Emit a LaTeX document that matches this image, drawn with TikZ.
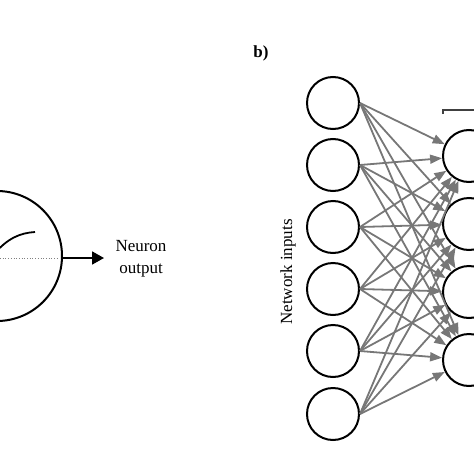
\documentclass[tikz,border=0pt]{standalone}
\usepackage{fontspec}
\setmainfont{Liberation Serif}
\usetikzlibrary{arrows.meta}
\definecolor{edgegray}{HTML}{777777}
\tikzset{
  neuron/.style={circle,draw=black,line width=2pt,minimum size=52pt,inner sep=0pt},
  link/.style={draw=edgegray,line width=1.8pt,-{Triangle[length=12pt,width=9pt]}},
  lbl/.style={font=\fontsize{17}{22}\selectfont,inner sep=0pt,align=center}
}
\begin{document}
\begin{tikzpicture}[x=1pt,y=-1pt]
\useasboundingbox (0,0) rectangle (474,474);
\clip (0,0) rectangle (474,474);
% part a (partly visible)
\node[circle,draw=black,line width=2pt,minimum size=130pt,inner sep=0pt] (big) at (-3,256) {};
\coordinate (dl) at (0,258);
\coordinate (dr) at (57,258);
\draw[gray,line width=0.7pt,dotted] (dl) -- (dr);
\coordinate (s0) at (-6,254);
\coordinate (s1) at (35,232);
\draw[black,line width=1.8pt] (s0) .. controls (8,238) and (20,233) .. (s1);
\coordinate (bigE) at (62,258);
\node[lbl] (out) at (141,259) {Neuron\\output};
\coordinate (tip) at (104,258);
\draw[black,line width=1.8pt,-{Triangle[length=12pt,width=13pt]}] (bigE) -- (tip);
% part b
\node[lbl,font=\fontsize{17}{22}\selectfont\bfseries] (b) at (261,53) {b)};
\node[lbl,rotate=90] (ni) at (288,272) {Network inputs};
\foreach \i/\y in {1/103,2/165,3/227,4/289,5/351,6/414}
  \node[neuron] (in\i) at (333,\y) {};
\foreach \j/\y in {1/156,2/224,3/292,4/360}
  \node[neuron] (h\j) at (469,\y) {};
\foreach \i in {1,...,6}
  \foreach \j in {1,...,4}
    \draw[link] (in\i.east) -- (h\j);
\coordinate (br0) at (443,114);
\coordinate (br1) at (443,110);
\coordinate (br2) at (474,110);
\draw[black!75,line width=1.2pt] (br0) -- (br1) -- (br2);
\end{tikzpicture}
\end{document}
